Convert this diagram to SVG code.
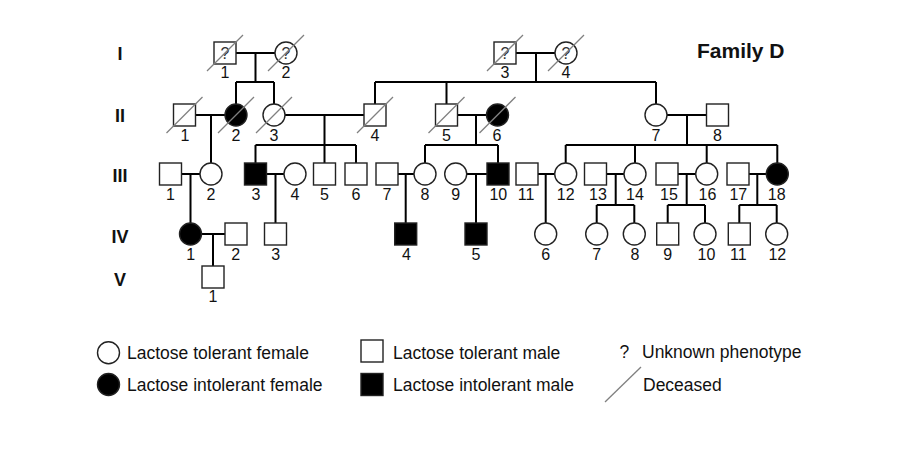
<svg xmlns="http://www.w3.org/2000/svg" width="900" height="453" viewBox="0 0 900 453">
<style>
.ln{stroke:#000;stroke-width:2;fill:none}
.sym{stroke:#222;stroke-width:1.4;fill:#fff}
.aff{fill:#000}
.dec{stroke:#808080;stroke-width:1.3}
.lab{font-family:"Liberation Sans",Arial,sans-serif;font-size:16px;text-anchor:middle;fill:#111}
.q{font-family:"Liberation Sans",Arial,sans-serif;font-size:16px;text-anchor:middle;fill:#333}
.gen{font-family:"Liberation Sans",Arial,sans-serif;font-size:18px;font-weight:bold;text-anchor:middle;fill:#111}
.leg{font-family:"Liberation Sans",Arial,sans-serif;font-size:17.5px;fill:#111}
.title{font-family:"Liberation Sans",Arial,sans-serif;font-size:21px;font-weight:bold;fill:#111}
</style>
<defs>
<rect id="sq" x="-11" y="-11" width="22" height="22"/>
<line id="slash" x1="-18" y1="18" x2="18" y2="-18"/>
</defs>
<rect width="900" height="453" fill="#fff"/>

<g id="generation-labels">
<text class="gen" x="120" y="60">I</text>
<text class="gen" x="120" y="122">II</text>
<text class="gen" x="120" y="182">III</text>
<text class="gen" x="120" y="243">IV</text>
<text class="gen" x="120" y="286">V</text>
</g>
<text class="title" x="697" y="58">Family D</text>

<g id="connectors">
<path class="ln" d="M236 53H275M255.5 53V82M236 82H274M236 82V104M274 82V104"/>
<path class="ln" d="M516 53H555M536 53V82M375 82H656M375 82V104M446.5 82V104M656 82V104"/>
<path class="ln" d="M195.5 115H225M211 115V163"/>
<path class="ln" d="M285 115H364M324.5 115V163M255.5 145H356M255.5 145V163M356 145V163"/>
<path class="ln" d="M457.5 115H486.5M476 115V145M425 145H498M425 145V163M498 145V163"/>
<path class="ln" d="M667 115H706.5M687 115V145M565.7 145H777.3M565.7 145V163M635 145V163M706.7 145V163M777.3 145V163"/>
<path class="ln" d="M181.5 174H200M190.5 174V223"/>
<path class="ln" d="M266.5 174H284M275.5 174V223"/>
<path class="ln" d="M398 174H414M405.7 174V223"/>
<path class="ln" d="M466.7 174H487M476 174V223"/>
<path class="ln" d="M538 174H554.7M545.7 174V223"/>
<path class="ln" d="M606.5 174H624M615.7 174V205M596.7 205H634.3M596.7 205V223M634.3 205V223"/>
<path class="ln" d="M678 174H695.7M686.7 174V205M667.7 205H705M667.7 205V223M705 205V223"/>
<path class="ln" d="M749 174H766.3M757.3 174V205M739.3 205H776.7M739.3 205V223M776.7 205V223"/>
<path class="ln" d="M201.5 234H225M213 234V266"/>
</g>

<g id="I-1"><use href="#sq" class="sym" x="225" y="53"/><text class="q" x="225" y="59">?</text><use href="#slash" class="dec" x="225" y="53"/><text class="lab" x="225" y="78">1</text></g>
<g id="I-2"><circle class="sym" cx="286" cy="53" r="11"/><text class="q" x="286" y="59">?</text><use href="#slash" class="dec" x="286" y="53"/><text class="lab" x="286" y="78">2</text></g>
<g id="I-3"><use href="#sq" class="sym" x="505" y="53"/><text class="q" x="505" y="59">?</text><use href="#slash" class="dec" x="505" y="53"/><text class="lab" x="505" y="78">3</text></g>
<g id="I-4"><circle class="sym" cx="566" cy="53" r="11"/><text class="q" x="566" y="59">?</text><use href="#slash" class="dec" x="566" y="53"/><text class="lab" x="566" y="78">4</text></g>

<g id="II-1"><use href="#sq" class="sym" x="184.5" y="115"/><use href="#slash" class="dec" x="184.5" y="115"/><text class="lab" x="185" y="141">1</text></g>
<g id="II-2"><circle class="sym aff" cx="236" cy="115" r="11"/><use href="#slash" class="dec" x="236" y="115"/><text class="lab" x="236" y="141">2</text></g>
<g id="II-3"><circle class="sym" cx="274" cy="115" r="11"/><use href="#slash" class="dec" x="274" y="115"/><text class="lab" x="274" y="141">3</text></g>
<g id="II-4"><use href="#sq" class="sym" x="375" y="115"/><use href="#slash" class="dec" x="375" y="115"/><text class="lab" x="375" y="141">4</text></g>
<g id="II-5"><use href="#sq" class="sym" x="446.5" y="115"/><use href="#slash" class="dec" x="446.5" y="115"/><text class="lab" x="446.5" y="141">5</text></g>
<g id="II-6"><circle class="sym aff" cx="497.5" cy="115" r="11"/><use href="#slash" class="dec" x="497.5" y="115"/><text class="lab" x="497" y="141">6</text></g>
<g id="II-7"><circle class="sym" cx="656" cy="115" r="11"/><text class="lab" x="656" y="141">7</text></g>
<g id="II-8"><use href="#sq" class="sym" x="717.5" y="115"/><text class="lab" x="717.5" y="141">8</text></g>

<g id="III-1"><use href="#sq" class="sym" x="170.5" y="174"/><text class="lab" x="170.5" y="200">1</text></g>
<g id="III-2"><circle class="sym" cx="211" cy="174" r="11"/><text class="lab" x="211" y="200">2</text></g>
<g id="III-3"><use href="#sq" class="sym aff" x="255.5" y="174"/><text class="lab" x="256" y="200">3</text></g>
<g id="III-4"><circle class="sym" cx="295" cy="174" r="11"/><text class="lab" x="295" y="200">4</text></g>
<g id="III-5"><use href="#sq" class="sym" x="324.5" y="174"/><text class="lab" x="324.5" y="200">5</text></g>
<g id="III-6"><use href="#sq" class="sym" x="356" y="174"/><text class="lab" x="356" y="200">6</text></g>
<g id="III-7"><use href="#sq" class="sym" x="387" y="174"/><text class="lab" x="387" y="200">7</text></g>
<g id="III-8"><circle class="sym" cx="425" cy="174" r="11"/><text class="lab" x="425" y="200">8</text></g>
<g id="III-9"><circle class="sym" cx="455.7" cy="174" r="11"/><text class="lab" x="455.7" y="200">9</text></g>
<g id="III-10"><use href="#sq" class="sym aff" x="498" y="174"/><text class="lab" x="498.3" y="200">10</text></g>
<g id="III-11"><use href="#sq" class="sym" x="527" y="174"/><text class="lab" x="526" y="200">11</text></g>
<g id="III-12"><circle class="sym" cx="565.7" cy="174" r="11"/><text class="lab" x="565.7" y="200">12</text></g>
<g id="III-13"><use href="#sq" class="sym" x="595.5" y="174"/><text class="lab" x="598" y="200">13</text></g>
<g id="III-14"><circle class="sym" cx="635" cy="174" r="11"/><text class="lab" x="635" y="200">14</text></g>
<g id="III-15"><use href="#sq" class="sym" x="667" y="174"/><text class="lab" x="669" y="200">15</text></g>
<g id="III-16"><circle class="sym" cx="706.7" cy="174" r="11"/><text class="lab" x="707.5" y="200">16</text></g>
<g id="III-17"><use href="#sq" class="sym" x="738" y="174"/><text class="lab" x="738.3" y="200">17</text></g>
<g id="III-18"><circle class="sym aff" cx="777.3" cy="174" r="11"/><text class="lab" x="776.7" y="200">18</text></g>

<g id="IV-1"><circle class="sym aff" cx="190.5" cy="234" r="11"/><text class="lab" x="190.7" y="260">1</text></g>
<g id="IV-2"><use href="#sq" class="sym" x="236" y="234"/><text class="lab" x="235.7" y="260">2</text></g>
<g id="IV-3"><use href="#sq" class="sym" x="275.5" y="234"/><text class="lab" x="275.7" y="260">3</text></g>
<g id="IV-4"><use href="#sq" class="sym aff" x="405.7" y="234"/><text class="lab" x="406.5" y="260">4</text></g>
<g id="IV-5"><use href="#sq" class="sym aff" x="476" y="234"/><text class="lab" x="476" y="260">5</text></g>
<g id="IV-6"><circle class="sym" cx="545.7" cy="234" r="11"/><text class="lab" x="545.7" y="260">6</text></g>
<g id="IV-7"><circle class="sym" cx="596.7" cy="234" r="11"/><text class="lab" x="596.7" y="260">7</text></g>
<g id="IV-8"><circle class="sym" cx="634.3" cy="234" r="11"/><text class="lab" x="635" y="260">8</text></g>
<g id="IV-9"><use href="#sq" class="sym" x="667.7" y="234"/><text class="lab" x="667.7" y="260">9</text></g>
<g id="IV-10"><circle class="sym" cx="705" cy="234" r="11"/><text class="lab" x="706.5" y="260">10</text></g>
<g id="IV-11"><use href="#sq" class="sym" x="739.3" y="234"/><text class="lab" x="738.3" y="260">11</text></g>
<g id="IV-12"><circle class="sym" cx="776.7" cy="234" r="11"/><text class="lab" x="777.3" y="260">12</text></g>

<g id="V-1"><use href="#sq" class="sym" x="213" y="277"/><text class="lab" x="213" y="302">1</text></g>

<g id="legend">
<circle class="sym" cx="108.5" cy="352.7" r="11"/><text class="leg" x="127" y="359">Lactose tolerant female</text>
<circle class="sym aff" cx="108.5" cy="384.5" r="11"/><text class="leg" x="127" y="391">Lactose intolerant female</text>
<rect class="sym" x="361" y="340" width="22" height="22"/><text class="leg" x="393" y="358.5">Lactose tolerant male</text>
<rect class="sym aff" x="361" y="373.5" width="22" height="22"/><text class="leg" x="393" y="391">Lactose intolerant male</text>
<text class="leg" x="619.5" y="358">?</text><text class="leg" x="642" y="358">Unknown phenotype</text>
<line class="dec" x1="605" y1="402" x2="641" y2="367"/><text class="leg" x="643" y="391">Deceased</text>
</g>
</svg>
